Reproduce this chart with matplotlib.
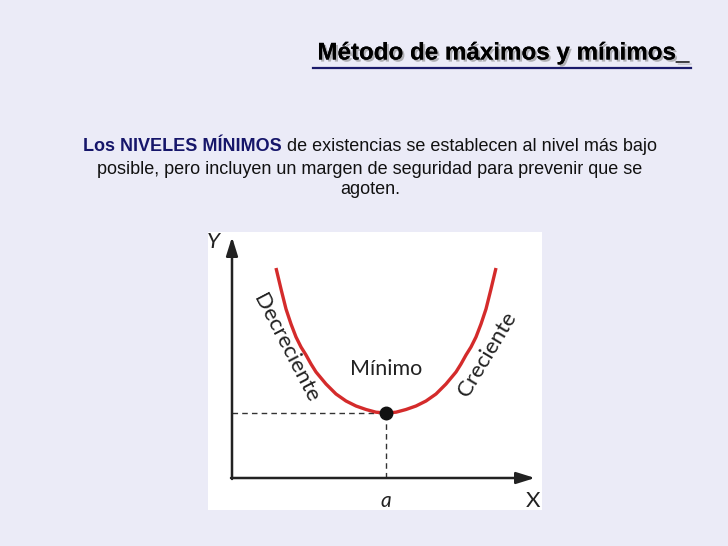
import numpy as np
import matplotlib
matplotlib.use("Agg")
import matplotlib.pyplot as plt
import matplotlib.patheffects as pe
from matplotlib.lines import Line2D

# datos (unidades arbitrarias, origen en los ejes)
curva_x = [4.4, 4.9, 5.4, 5.9, 6.4, 6.9, 7.4, 7.9, 8.4, 9.4, 10.4, 11.4, 12.4, 13.4, 14.4, 15.4,
           16.4, 17.4, 18.4, 19.4, 20.4, 21.4, 22.4, 22.9, 23.4, 23.9, 24.4, 24.9, 25.4, 25.9, 26.4]
curva_y = [21.0, 18.9, 16.9, 15.4, 14.1, 13.1, 12.3, 11.4, 10.6, 9.4, 8.4, 7.7, 7.2, 6.85, 6.58, 6.5,
           6.58, 6.85, 7.2, 7.7, 8.4, 9.4, 10.6, 11.4, 12.3, 13.1, 14.1, 15.4, 16.9, 18.9, 21.0]
punto_a = 15.4
minimo_y = 6.5
ejes_fin = [30.3, 24.1]

titulo = "Método de máximos y mínimos_"
texto_negrita = "Los NIVELES MÍNIMOS"
texto_linea1 = " de existencias se establecen al nivel más bajo"
texto_linea2 = "posible, pero incluyen un margen de seguridad para prevenir que se"
texto_linea3 = "agoten."

fondo = "#EBEBF7"
rojo = "#D42B2B"

fig = plt.figure(figsize=(7.28, 5.46), dpi=100)
fig.patch.set_facecolor(fondo)
W, H = 728, 546

def fx(px):
    return px / W

def fy(py):
    return 1 - py / H

# titulo con sombra
t = fig.text(fx(503), fy(53), titulo, ha="center", va="center",
             fontsize=17.4, fontweight="bold", family="Liberation Sans", color="black",
             path_effects=[pe.withSimplePatchShadow(offset=(1.5, -1.5), shadow_rgbFace="#888888", alpha=0.6),
                           pe.Normal()])
fig.add_artist(Line2D([fx(313), fx(691)], [fy(68), fy(68)], color="#1A1A6A", lw=1.6))

# parrafo
tam = 13.0
fig.canvas.draw()
r = fig.canvas.get_renderer()
tb = fig.text(0, fy(147), texto_negrita, ha="left", va="center", fontsize=tam,
              fontweight="bold", family="Liberation Sans", color="#16166A")
tr = fig.text(0, fy(147), texto_linea1, ha="left", va="center", fontsize=tam,
              family="Liberation Sans", color="#111111")
wb = tb.get_window_extent(r).width
wr = tr.get_window_extent(r).width
x0 = (370 - (wb + wr) / 2)
tb.set_x(fx(x0))
tr.set_x(fx(x0 + wb))
fig.text(fx(370), fy(169), texto_linea2, ha="center", va="center", fontsize=tam,
         family="Liberation Sans", color="#111111")
fig.text(fx(370), fy(190), texto_linea3, ha="center", va="center", fontsize=tam,
         family="Liberation Sans", color="#111111")

# grafico
ax = fig.add_axes([fx(208), 1 - 510 / H, 334 / W, 278 / H])
ax.set_facecolor("white")
ax.set_xlim(-2.4, 31.0)
ax.set_ylim(-3.2, 24.6)
ax.set_xticks([])
ax.set_yticks([])
for s in ax.spines.values():
    s.set_visible(False)

flecha = dict(arrowstyle="-|>,head_length=0.8,head_width=0.25", lw=1.8,
              color="#222222", mutation_scale=14, shrinkA=0, shrinkB=0)
ax.annotate("", xy=(ejes_fin[0], 0), xytext=(-0.1, 0), arrowprops=flecha)
ax.annotate("", xy=(0, ejes_fin[1]), xytext=(0, -0.1), arrowprops=flecha)

ax.plot([0, punto_a], [minimo_y, minimo_y], ls=(0, (4, 3)), color="#333333", lw=1.0)
ax.plot([punto_a, punto_a], [0, minimo_y], ls=(0, (4, 3)), color="#333333", lw=1.0)
ax.plot(curva_x, curva_y, color=rojo, lw=2.4, solid_capstyle="butt")
ax.plot([punto_a], [minimo_y], "o", color="#111111", markersize=9)

fuente = "Lato"
ax.text(5.4, 13.0, "Decreciente", rotation=-62.5, ha="center", va="center",
        fontsize=16, family=fuente, color="#222222", rotation_mode="anchor")
ax.text(25.5, 12.4, "Creciente", rotation=59, ha="center", va="center",
        fontsize=16, family=fuente, color="#222222", rotation_mode="anchor")
ax.text(15.4, 10.9, "Mínimo", ha="center", va="center", fontsize=15.5,
        family=fuente, color="#222222")
ax.text(15.4, -2.3, "a", ha="center", va="center", fontsize=15,
        family=fuente, style="italic", color="#222222")
ax.text(30.1, -2.3, "X", ha="center", va="center", fontsize=16,
        family=fuente, color="#222222")
ax.text(-1.9, 23.6, "Y", ha="center", va="center", fontsize=16,
        family=fuente, style="italic", color="#222222")

fig.savefig("out.png", dpi=100, facecolor=fondo)
